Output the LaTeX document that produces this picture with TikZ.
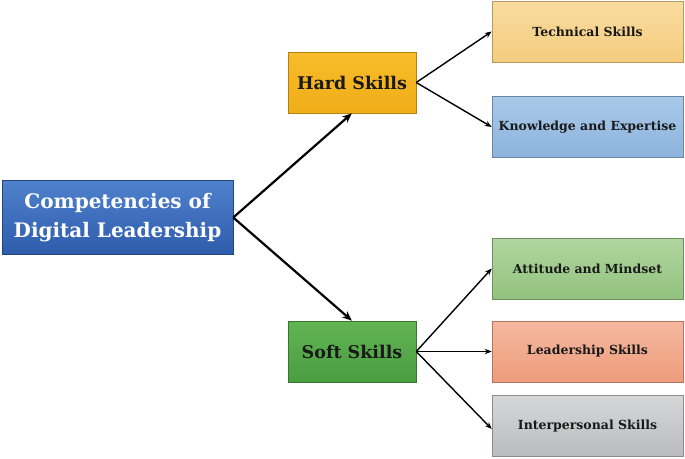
\documentclass[tikz,border=0pt]{standalone}
\usepackage{fontspec}
\setmainfont{DejaVu Serif}
\usetikzlibrary{arrows.meta}
\definecolor{mainA}{HTML}{4F81CC}
\definecolor{mainB}{HTML}{2E5CAB}
\definecolor{hardA}{HTML}{F8BC2A}
\definecolor{hardB}{HTML}{F0AE18}
\definecolor{softA}{HTML}{62B453}
\definecolor{softB}{HTML}{4A9E40}
\definecolor{techA}{HTML}{F9DCA0}
\definecolor{techB}{HTML}{F5CC7E}
\definecolor{knowA}{HTML}{A9C8E8}
\definecolor{knowB}{HTML}{8DB4DD}
\definecolor{attA}{HTML}{B1D6A0}
\definecolor{attB}{HTML}{92C27E}
\definecolor{leadA}{HTML}{F5B9A0}
\definecolor{leadB}{HTML}{EE9C7C}
\definecolor{intA}{HTML}{D6D7D9}
\definecolor{intB}{HTML}{B9BBBE}
\tikzset{
  box/.style={draw=#1!75!black, line width=0.5pt, rectangle, inner sep=0pt, align=center},
  leaf/.style={minimum width=191pt, minimum height=61pt, font=\bfseries\fontsize{12.5}{15}\selectfont, text=black!90},
  mid/.style={minimum width=128pt, minimum height=61pt, font=\bfseries\fontsize{17.5}{21}\selectfont, text=black!90},
  bigarrow/.style={-{Stealth[length=10pt,width=8pt]}, line width=2.2pt},
  smallarrow/.style={-{Stealth[length=7pt,width=5.5pt]}, line width=1.4pt}
}
\begin{document}
\begin{tikzpicture}[x=1pt,y=-1pt]
\useasboundingbox (0,0) rectangle (685,458);
\node[box=mainB, top color=mainA, bottom color=mainB, minimum width=231pt, minimum height=74pt, text=white, font=\bfseries\fontsize{20}{29}\selectfont] (main) at (117.5,217.5) {Competencies of\\Digital Leadership};
\node[box=hardB, top color=hardA, bottom color=hardB, mid] (hard) at (352,82.5) {Hard Skills};
\node[box=softB, top color=softA, bottom color=softB, mid] (soft) at (352,351.5) {Soft Skills};
\node[box=techB, top color=techA, bottom color=techB, leaf] (tech) at (587.5,31.5) {Technical Skills};
\node[box=knowB, top color=knowA, bottom color=knowB, leaf] (know) at (587.5,127) {Knowledge and Expertise};
\node[box=attB, top color=attA, bottom color=attB, leaf] (att) at (587.5,268.5) {Attitude and Mindset};
\node[box=leadB, top color=leadA, bottom color=leadB, leaf] (lead) at (587.5,351.5) {Leadership Skills};
\node[box=intB, top color=intA, bottom color=intB, leaf] (inter) at (587.5,426) {Interpersonal Skills};
\draw[bigarrow] (main.east) -- (hard.south);
\draw[bigarrow] (main.east) -- (soft.north);
\draw[smallarrow] (hard.east) -- (tech.west);
\draw[smallarrow] (hard.east) -- (know.west);
\draw[smallarrow] (soft.east) -- (att.west);
\draw[smallarrow] (soft.east) -- (lead.west);
\draw[smallarrow] (soft.east) -- ([yshift=-3pt]inter.west);
\end{tikzpicture}
\end{document}
